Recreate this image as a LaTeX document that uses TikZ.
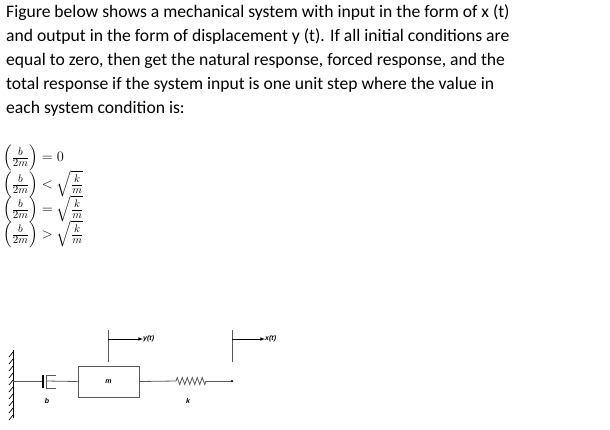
\documentclass[tikz,border=0pt]{standalone}
\usepackage{fontspec}
\usepackage{amsmath}
\setmainfont{Carlito}
\newfontfamily\diagfont{Liberation Sans}
\usetikzlibrary{decorations.pathmorphing}
\begin{document}
\begin{tikzpicture}[x=1pt,y=-1pt,
  lbl/.style={font=\diagfont\bfseries\itshape\fontsize{7}{8}\selectfont, inner sep=0pt},
  mech/.style={line width=0.8pt, gray!70!black},
  cond/.style={anchor=west, inner sep=0pt, font=\fontsize{15}{17}\selectfont},
  arr/.style={-latex, line width=0.6pt}]
\useasboundingbox (0,0) rectangle (610,429);
\node[anchor=north west, align=left, inner sep=0pt, font=\fontsize{17.6}{24}\selectfont] (txt) at (6,4)
{Figure below shows a mechanical system with input in the form of x (t)\\
and output in the form of displacement y (t). If all initial conditions are\\
equal to zero, then get the natural response, forced response, and the\\
total response if the system input is one unit step where the value in\\
each system condition is:};
\node[cond] (c1) at (3,158) {$\left(\frac{b}{2m}\right)=0$};
\node[cond] (c2) at (3,184) {$\left(\frac{b}{2m}\right)<\sqrt{\frac{k}{m}}$};
\node[cond] (c3) at (3,209) {$\left(\frac{b}{2m}\right)=\sqrt{\frac{k}{m}}$};
\node[cond] (c4) at (3,234) {$\left(\frac{b}{2m}\right)>\sqrt{\frac{k}{m}}$};
% wall
\coordinate (wt) at (13,350); \coordinate (wb) at (13,418);
\draw[line width=1pt] (wt) -- (wb);
\foreach \y in {352,359,...,416} \draw[line width=0.7pt] (13,\y) -- (9,\y+5);
% damper
\coordinate (w0) at (13,381);
\coordinate (dp) at (43,381);
\draw[mech] (w0) -- (dp);
\draw[line width=1.2pt] (43,375) -- (43,388);
\draw[mech] (46,375) -- (56,375) (46,388) -- (56,388) (46,375) -- (46,388);
\node[draw, mech, minimum width=61pt, minimum height=31pt, inner sep=0pt] (m) at (108.5,381.5) {};
\node[lbl] (ml) at (m) {m};
\draw[mech] (46,381) -- (m.west);
\coordinate (s0) at (176,381); \coordinate (s1) at (206,381);
\node[circle, fill, inner sep=0pt, minimum size=2.5pt] (xd) at (232,381) {};
\draw[mech] (m.east) -- (s0);
\draw[mech, decorate, decoration={zigzag, segment length=5pt, amplitude=3.5pt}] (s0) -- (s1);
\draw[mech] (s1) -- (xd);
\node[lbl] (bl) at (47,401) {b};
\node[lbl] (kl) at (188,401) {k};
% markers
\coordinate (yt) at (108,330); \coordinate (yb) at (108,362);
\draw[mech, line width=0.5pt] (yt) -- (yb);
\node[lbl, anchor=west] (yl) at (143,339) {y(t)};
\draw[arr] (108,339) -- (yl.west);
\coordinate (xt) at (232,330); \coordinate (xb) at (232,362);
\draw[mech, line width=0.5pt] (xt) -- (xb);
\node[lbl, anchor=west] (xl) at (265,339) {x(t)};
\draw[arr] (232,339) -- (xl.west);
\end{tikzpicture}
\end{document}
